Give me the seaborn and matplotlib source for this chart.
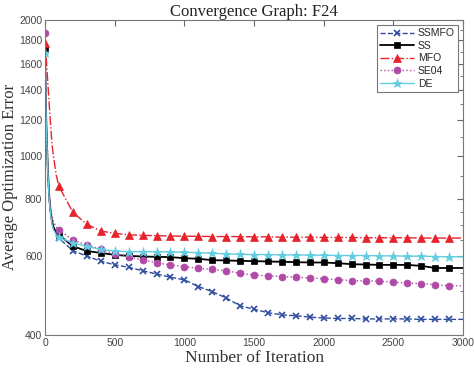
#%%
import pandas as pd
import matplotlib.pyplot as plt
import seaborn as sns
import numpy as np
from matplotlib.ticker import FixedLocator, NullFormatter

#%%
# iteration grid (dense at the start where the curves fall fast)
iters = [0, 5, 10, 20, 30, 40, 50, 60, 80,
         100, 200, 300, 400, 500, 600, 700, 800, 900, 1000,
         1100, 1200, 1300, 1400, 1500, 1600, 1700, 1800, 1900, 2000,
         2100, 2200, 2300, 2400, 2500, 2600, 2700, 2800, 2900, 3000]

ssmfo = [1700, 1320, 1140, 920, 805, 745, 710, 690, 668,
         655, 615, 598, 583, 572, 565, 555, 546, 537, 530,
         512, 499, 483, 464, 456, 448, 443, 441, 438, 436,
         435, 435, 434, 434, 434, 434, 433, 433, 433, 433]
ss = [1730, 1330, 1150, 930, 810, 750, 715, 695, 675,
      667, 629, 614, 608, 602, 599, 597, 596, 595, 592,
      590, 586, 585, 584, 583, 582, 581, 580, 579, 579,
      577, 574, 573, 572, 572, 572, 569, 563, 563, 563]
mfo = [1780, 1700, 1620, 1450, 1300, 1170, 1060, 1000, 905,
       854, 748, 704, 680, 672, 667, 665, 664, 663, 662,
       662, 661, 661, 661, 660, 660, 659, 659, 659, 658,
       658, 658, 657, 657, 657, 657, 656, 656, 656, 656]
se04 = [1870, 1400, 1200, 960, 830, 770, 735, 715, 695,
        684, 649, 633, 620, 605, 595, 587, 578, 572, 567,
        562, 559, 555, 548, 543, 541, 539, 537, 535, 533,
        530, 528, 527, 526, 524, 521, 520, 517, 514, 514]
de = [1690, 1310, 1130, 920, 800, 740, 705, 685, 668,
      659, 639, 629, 619, 614, 612, 612, 612, 611, 610,
      609, 607, 605, 604, 603, 603, 602, 602, 601, 601,
      600, 600, 600, 599, 599, 598, 598, 597, 596, 596]

names = ['SSMFO', 'SS', 'MFO', 'SE04', 'DE']
values = [ssmfo, ss, mfo, se04, de]

xticks = [0, 500, 1000, 1500, 2000, 2500, 3000]
yticks = [400, 600, 800, 1000, 1200, 1400, 1600, 1800, 2000]

#%%
styles = {
    'SSMFO': dict(color='#2f4c9e', linestyle='--', marker='x', markersize=4.5, markeredgewidth=1.2, lw=1.0),
    'SS':    dict(color='black', linestyle='-', marker='s', markersize=4.5, markeredgewidth=0.5, lw=1.3),
    'MFO':   dict(color='#e8222b', linestyle='-.', marker='^', markersize=5.5, markeredgewidth=0.5, lw=1.0),
    'SE04':  dict(color='#b04aa6', linestyle=':', marker='o', markersize=5, markeredgewidth=0.5, lw=1.0),
    'DE':    dict(color='#62cde0', linestyle='-', marker='*', markersize=6.5, markeredgewidth=0.5, lw=1.0),
}

df = pd.DataFrame({'iter': iters})
for n, v in zip(names, values):
    df[n] = v

# markers at iteration 0, 100, ..., 2900
mark_idx = [0] + list(range(9, len(iters) - 1))

#%%
sns.set_style("white")
plt.rcParams['font.family'] = ['Liberation Sans', 'DejaVu Sans']

fig = plt.figure(figsize=(4.74, 3.68), dpi=100)
ax = fig.add_axes([0.095, 0.09, 0.882, 0.856])

for n in names:
    st = styles[n]
    sns.lineplot(data=df, x='iter', y=n, ax=ax, label=n,
                 markevery=mark_idx, markeredgecolor=st['color'],
                 markerfacecolor=st['color'], **st)

ax.set_yscale('log')
ax.set_xlim(0, 3000)
ax.set_ylim(400, 2000)
ax.set_xticks(xticks)
ax.yaxis.set_major_locator(FixedLocator(yticks))
ax.yaxis.set_minor_locator(FixedLocator([450, 500, 550, 650, 700, 750, 900, 1100, 1300, 1500, 1700, 1900]))
ax.yaxis.set_minor_formatter(NullFormatter())
ax.set_yticklabels([str(t) for t in yticks])

ax.tick_params(which='both', direction='in', top=True, right=True,
               colors='#666666', labelcolor='#444444', labelsize=7.5, pad=2)
ax.tick_params(which='major', length=4)
ax.tick_params(which='minor', length=2)
for s in ax.spines.values():
    s.set_color('#777777')
    s.set_linewidth(0.8)

ax.set_xlabel("Number of Iteration", family='Liberation Serif', fontsize=12.5,
              color='#333333', labelpad=2)
ax.set_ylabel("Average Optimization Error", family='Liberation Serif', fontsize=12,
              color='#333333', labelpad=1)
ax.set_title("Convergence Graph: F24", family='Liberation Serif', fontsize=12,
             color='#222222', pad=3)

leg = ax.legend(loc='upper right', fontsize=7.5, fancybox=False, framealpha=1,
                edgecolor='#777777', handlelength=3.2, borderpad=0.3,
                labelspacing=0.25, handletextpad=0.4, borderaxespad=0.5)
leg.get_frame().set_linewidth(0.8)

plt.savefig("out.png", dpi=100)
